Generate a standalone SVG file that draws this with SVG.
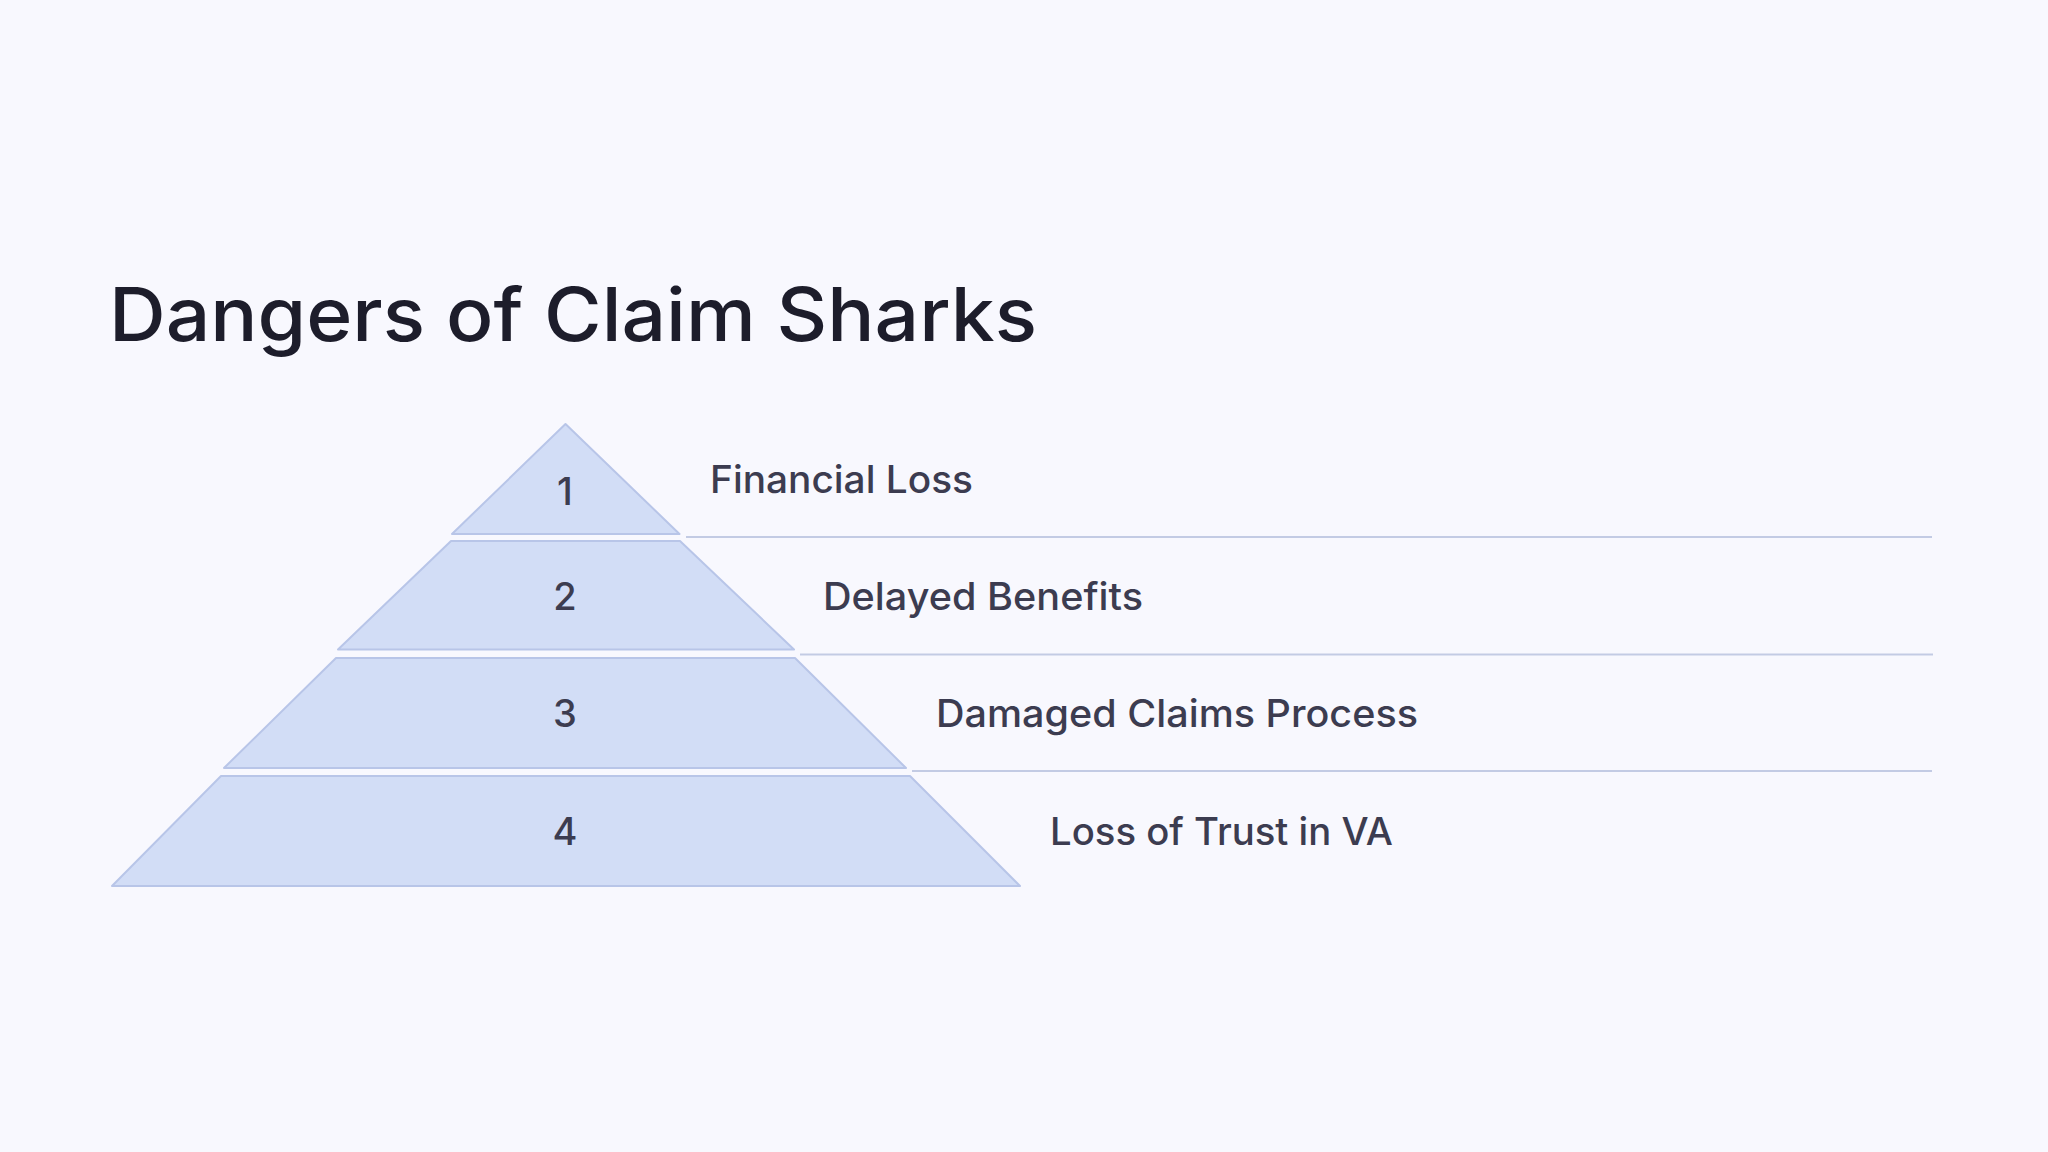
<svg xmlns="http://www.w3.org/2000/svg" width="2048" height="1152" viewBox="0 0 2048 1152">
<style>
.bg{fill:#f8f8fe}
.tier{fill:#d2ddf6;stroke:#b8c5e8;stroke-width:2;stroke-linejoin:round}
.num{font-family:Inter,"Liberation Sans",sans-serif;font-weight:500;font-size:38px;fill:#3c3c50;text-anchor:middle}
.lbl{font-family:Inter,"Liberation Sans",sans-serif;font-weight:500;font-size:38px;fill:#3c3c50}
.title{font-family:Inter,"Liberation Sans",sans-serif;font-weight:500;font-size:74px;fill:#1d1d2b}
.sep{stroke:#c3cbe4;stroke-width:2;fill:none}
</style>
<rect class="bg" x="0" y="0" width="2048" height="1152"/>
<text class="title" x="109" y="341" textLength="928" lengthAdjust="spacingAndGlyphs">Dangers of Claim Sharks</text>
<g id="connectors">
<line class="sep" x1="686" y1="537" x2="1932" y2="537"/>
<line class="sep" x1="800" y1="654.5" x2="1933" y2="654.5"/>
<line class="sep" x1="912" y1="771" x2="1932" y2="771"/>
</g>
<g id="tier1">
<polygon class="tier" points="565.5,424 679.5,534 452,534"/>
<text class="num" x="565" y="505">1</text>
<text class="lbl" x="710" y="493" textLength="263" lengthAdjust="spacingAndGlyphs">Financial Loss</text>
</g>
<g id="tier2">
<polygon class="tier" points="451,541 680,541 794,649.5 338,649.5"/>
<text class="num" x="565" y="609.5">2</text>
<text class="lbl" x="823" y="609.5" textLength="320" lengthAdjust="spacingAndGlyphs">Delayed Benefits</text>
</g>
<g id="tier3">
<polygon class="tier" points="336,658 795,658 906,768 224,768"/>
<text class="num" x="565" y="727">3</text>
<text class="lbl" x="936" y="727" textLength="482" lengthAdjust="spacingAndGlyphs">Damaged Claims Process</text>
</g>
<g id="tier4">
<polygon class="tier" points="221,776 910,776 1020,886 112,886"/>
<text class="num" x="565" y="844.5">4</text>
<text class="lbl" x="1050" y="844.5" textLength="343" lengthAdjust="spacingAndGlyphs">Loss of Trust in VA</text>
</g>
</svg>
